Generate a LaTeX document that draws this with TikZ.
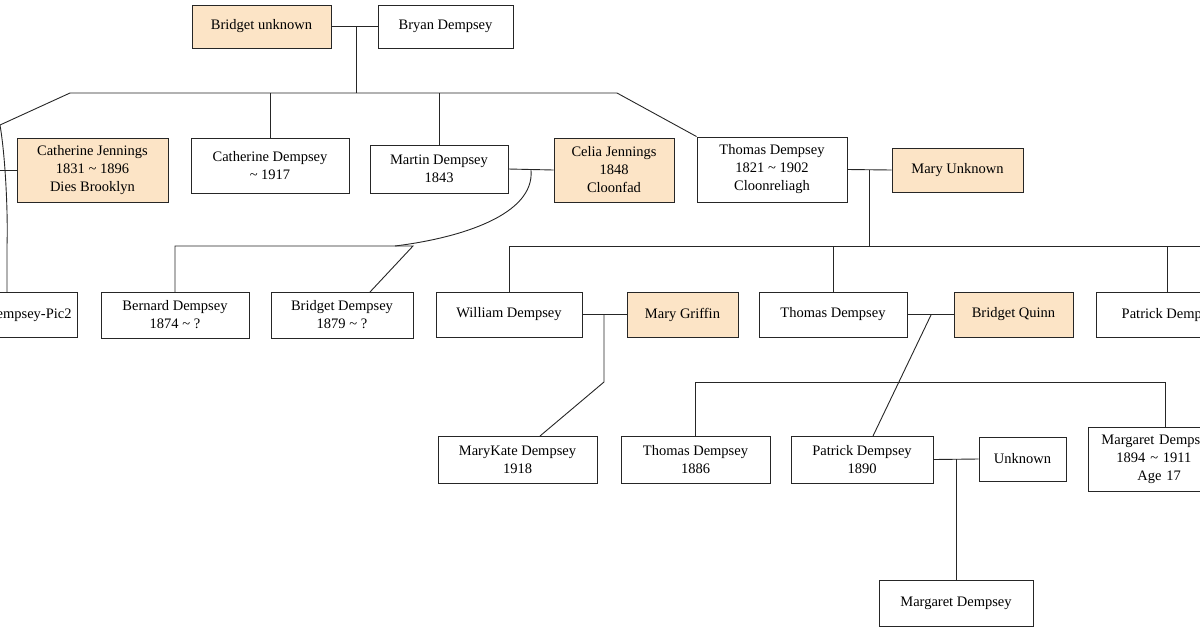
\documentclass[tikz,border=0pt]{standalone}
\usepackage{fontspec}
\setmainfont{Liberation Serif}
\definecolor{peach}{HTML}{FCE4C6}
\begin{document}
\begin{tikzpicture}[x=1pt,y=-1pt,
  p/.style={draw=black!85,line width=0.9pt,fill=white,align=center,inner sep=0pt,font=\fontsize{14.5}{18}\selectfont},
  sp/.style={p,fill=peach},
  l/.style={line width=0.9pt,black!85}]
\useasboundingbox (0,0) rectangle (1200,630);
\clip (0,0) rectangle (1200,630);
\newcommand{\bx}[5]{\node[#1,minimum width=#4-#2 pt,minimum height=#5-#3 pt] at ({(#2+#4)/2},{(#3+#5)/2})}
% boxes
\bx{sp}{192}{5}{331}{48} (bu) {Bridget unknown};
\bx{p}{378}{5}{513}{48} (bd) {Bryan Dempsey};
\bx{sp}{17}{138}{168}{202} (cj) {Catherine Jennings\\1831 \textasciitilde{} 1896\\Dies Brooklyn};
\bx{p}{191}{138}{349}{193} (cd) {Catherine Dempsey\\\textasciitilde{} 1917};
\bx{p}{370}{145}{508}{193} (md) {Martin Dempsey\\1843};
\bx{sp}{554}{138}{674}{202} (cel) {Celia Jennings\\1848\\Cloonfad};
\bx{p}{697}{137}{847}{202} (td) {Thomas Dempsey\\1821 \textasciitilde{} 1902\\Cloonreliagh};
\bx{sp}{892}{148}{1023}{192} (mu) {Mary Unknown};
\node[p,minimum width=150pt,minimum height=45pt,anchor=north east,text width=138pt,align=right] (pic) at (78,292) {Dempsey-Pic2\hspace*{8pt}};
\bx{p}{101}{292}{249}{338} (bern) {Bernard Dempsey\\1874 \textasciitilde{} ?};
\bx{p}{271}{292}{413}{338} (brid) {Bridget Dempsey\\1879 \textasciitilde{} ?};
\bx{p}{436}{292}{582}{337} (wd) {William Dempsey};
\bx{sp}{627}{292}{738}{337} (mg) {Mary Griffin};
\bx{p}{759}{292}{907}{337} (td2) {Thomas Dempsey};
\bx{sp}{954}{292}{1073}{337} (bq) {Bridget Quinn};
\node[p,minimum width=150pt,minimum height=45pt,anchor=north west] (pd) at (1096,292) {Patrick Dempsey};
\bx{p}{438}{436}{597}{483} (mk) {MaryKate Dempsey\\1918};
\bx{p}{621}{436}{770}{483} (t86) {Thomas Dempsey\\1886};
\bx{p}{791}{436}{933}{483} (p90) {Patrick Dempsey\\1890};
\bx{p}{979}{437}{1066}{481} (unk) {Unknown};
\bx{p}{879}{580}{1033}{626} (mdb) {Margaret Dempsey};
\node[p,minimum width=150pt,minimum height=64pt,anchor=north west,text width=142pt,align=left] (mdr) at (1088,427) {\hspace*{9pt}Margaret Dempsey\\\hspace*{24pt}1894 \textasciitilde{} 1911\\\hspace*{45pt}Age 17};
% connectors
\coordinate (c1) at (356,26);
\draw[l] (bu.east) -- (bd.west);
\draw[l] (c1) -- (356,93);
\draw[l] (0,125) -- (70,93) -- (617,93) -- (td.north west);
\draw[l] (270,93) -- (cd.north);
\draw[l] (439,93) -- (md.north);
\draw[l] (0,170) -- (cj.west);
\draw[l] (0,125) .. controls (6,160) and (8,220) .. (7,245) -- (7,292);
\draw[l] (md.east) -- (cel.west);
\draw[l] (531,170) .. controls (535,215) and (460,238) .. (395,246);
\draw[l] (175,292) -- (175,246) -- (413,246) -- (370,292);
\draw[l] (td.east) -- (mu.west);
\draw[l] (869,170) -- (869,246);
\draw[l] (509,292) -- (509,246) -- (1200,246);
\draw[l] (833,246) -- (833,292);
\draw[l] (1167,246) -- (1167,292);
\draw[l] (wd.east) -- (mg.west);
\draw[l] (604,315) -- (604,382) -- (540,436);
\draw[l] (td2.east) -- (bq.west);
\draw[l] (931,315) -- (873,436);
\draw[l] (695,436) -- (695,382) -- (1165,382) -- (1165,427);
\draw[l] (p90.east) -- (unk.west);
\draw[l] (956,459) -- (mdb.north -| 956,0);
\end{tikzpicture}
\end{document}
